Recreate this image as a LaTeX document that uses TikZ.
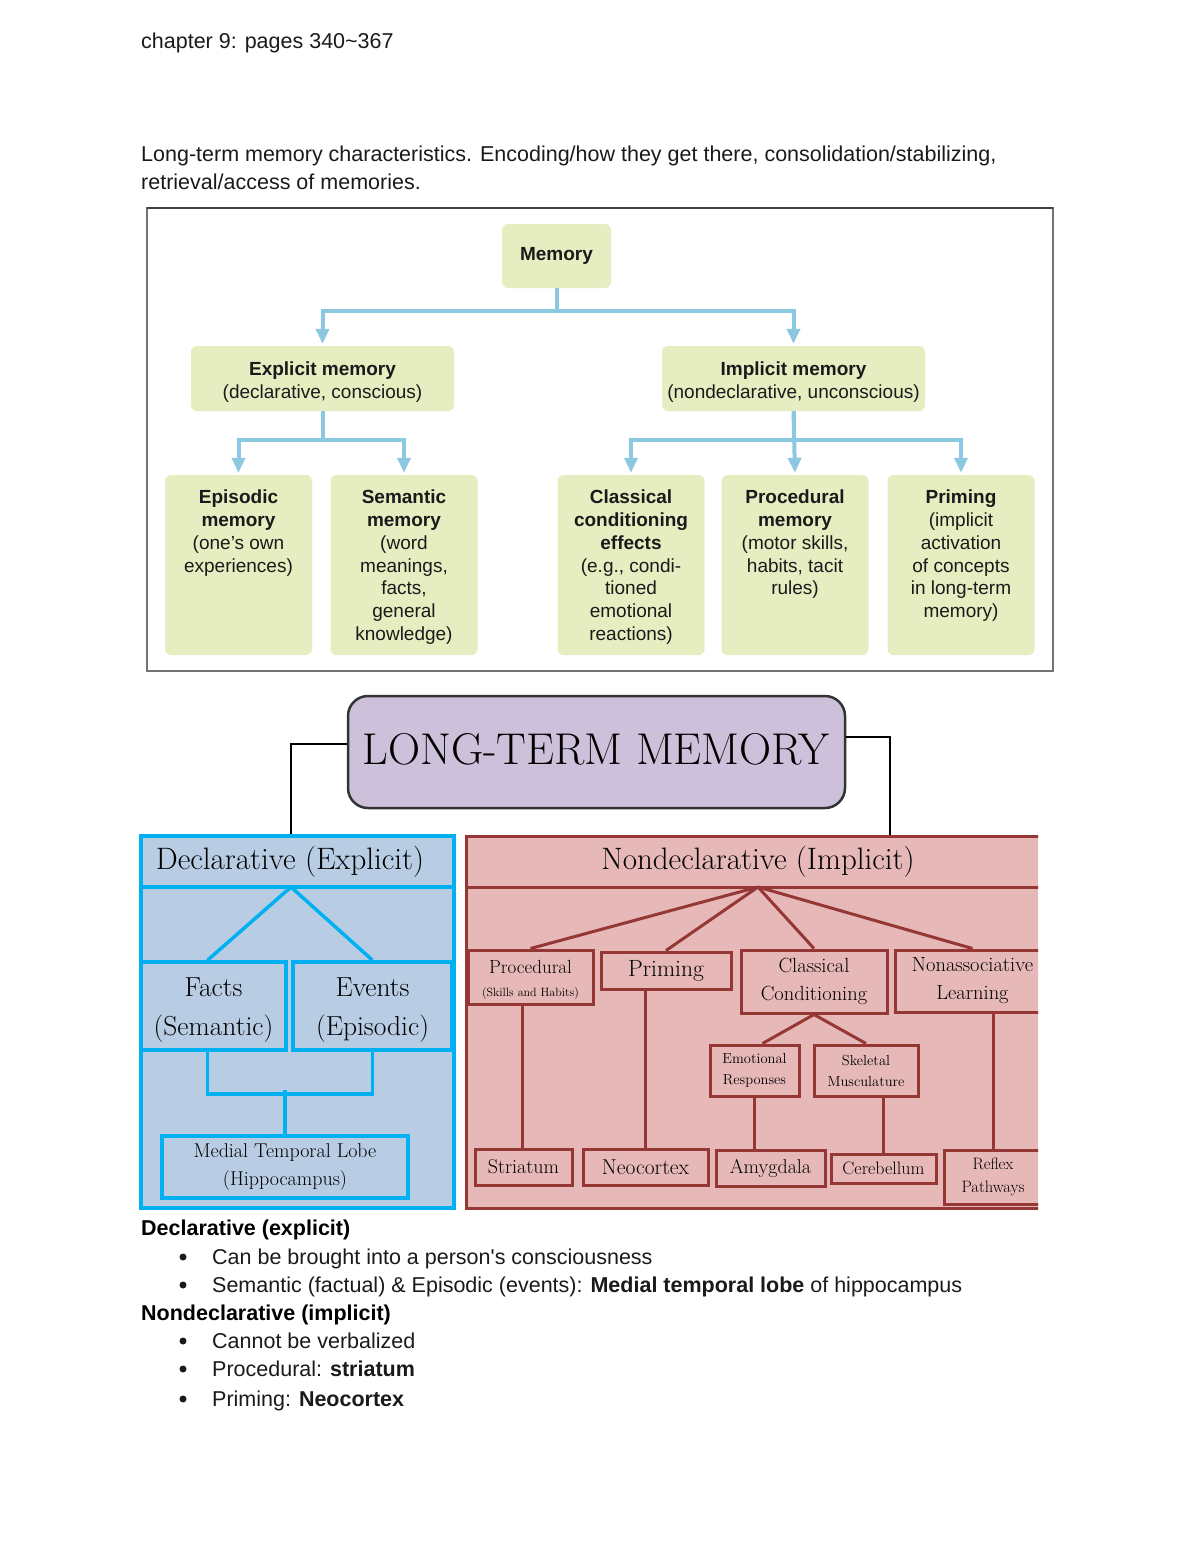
\documentclass[tikz,border=0pt]{standalone}
\usepackage{fontspec}
\newfontfamily\arialf{Liberation Sans}
\usetikzlibrary{arrows.meta,calc}
\definecolor{gfill}{HTML}{E6EEC1}
\definecolor{barrow}{HTML}{8CC8E1}
\definecolor{ltmfill}{HTML}{CCC0DA}
\definecolor{declfill}{HTML}{B8CCE4}
\definecolor{cyanb}{HTML}{00B0F0}
\definecolor{nondfill}{HTML}{E6B8B8}
\definecolor{redb}{HTML}{953735}
\definecolor{txt}{HTML}{1A1A1A}
\begin{document}
\begin{tikzpicture}[x=1pt,y=-1pt,
  hdr/.style={font=\arialf\fontsize{21.5}{25}\selectfont, text=txt, inner sep=0pt},
  gbox/.style={fill=gfill, draw=none, rounded corners=6pt, inner sep=0pt, align=center,
    font=\arialf\fontsize{19}{23}\selectfont, text=txt},
  gtext/.style={inner sep=0pt, align=center, font=\arialf\fontsize{19}{22.8}\selectfont, text=txt},
  bl/.style={draw=barrow, line width=4pt, line join=miter, -{Triangle[width=13pt,length=15pt]}, shorten >=2pt},
  ltmbox/.style={fill=ltmfill, draw=black!80, line width=2.5pt, rounded corners=20pt, inner sep=0pt},
  kline/.style={draw=black, line width=2.5pt},
  dpanel/.style={fill=declfill, draw=cyanb, line width=4pt, inner sep=0pt},
  dbox/.style={draw=cyanb, line width=3.5pt, inner sep=0pt, align=center},
  cl/.style={draw=cyanb, line width=3.5pt},
  npanel/.style={fill=nondfill, draw=redb, line width=3pt, inner sep=0pt},
  nbox/.style={draw=redb, line width=3pt, inner sep=0pt, align=center},
  rl/.style={draw=redb, line width=3pt},
  btxt/.style={font=\arialf\fontsize{21.5}{25}\selectfont, text=txt, inner sep=0pt},
  bullet/.style={circle, fill=txt, inner sep=0pt, minimum size=7pt},
]
\useasboundingbox[fill=white] (0,0) rectangle (1200,1553);

% ---------- header ----------
\node[hdr, anchor=base west] (h1) at (141,48) {chapter 9: pages 340\textasciitilde 367};
\node[hdr, anchor=base west] (h2) at (141,161) {Long-term memory characteristics. Encoding/how they get there, consolidation/stabilizing,};
\node[hdr, anchor=base west] (h3) at (141,189) {retrieval/access of memories.};

% ---------- diagram 1 ----------
\draw[draw=black!55, line width=1.2pt] (147,208) rectangle (1053,671);
\draw[draw=black!75, line width=2pt] (147,208) -- (1053,208);

\node[gbox, minimum width=109pt, minimum height=64pt] (mem) at (556.5,256) {\bfseries Memory};
\node[gbox, minimum width=263pt, minimum height=65pt] (expl) at (322.5,378.5) {};
\node[gtext, yshift=-3.5pt] (explT) at (expl.center) {\textbf{Explicit memory}\\(declarative, conscious)};
\node[gbox, minimum width=263pt, minimum height=65pt] (impl) at (793.5,378.5) {};
\node[gtext, yshift=-3.5pt] (implT) at (impl.center) {\textbf{Implicit memory}\\(nondeclarative, unconscious)};

\foreach \n/\x in {epi/238.5, sem/404, cla/631, pro/795, pri/961}
  \node[gbox, minimum width=147pt, minimum height=180pt] (\n) at (\x,565) {};

\node[gtext, anchor=north, yshift=-15pt] (epiT) at (epi.north) {\textbf{Episodic}\\\textbf{memory}\\(one’s own\\experiences)};
\node[gtext, anchor=north, yshift=-15pt] (semT) at (sem.north) {\textbf{Semantic}\\\textbf{memory}\\(word\\meanings,\\facts,\\general\\knowledge)};
\node[gtext, anchor=north, yshift=-15pt] (claT) at (cla.north) {\textbf{Classical}\\\textbf{conditioning}\\\textbf{effects}\\(e.g., condi-\\tioned\\emotional\\reactions)};
\node[gtext, anchor=north, yshift=-15pt] (proT) at (pro.north) {\textbf{Procedural}\\\textbf{memory}\\(motor skills,\\habits, tacit\\rules)};
\node[gtext, anchor=north, yshift=-15pt] (priT) at (pri.north) {\textbf{Priming}\\(implicit\\activation\\of concepts\\in long-term\\memory)};

\draw[bl] (mem.south) -- ++(0,23) -| (expl.north);
\draw[bl] (mem.south) -- ++(0,23) -| (impl.north);
\draw[bl] (expl.south) -- ++(0,29) -| (epi.north);
\draw[bl] (expl.south) -- ++(0,29) -| (sem.north);
\draw[bl] (impl.south) -- ++(0,29) -| (cla.north);
\draw[bl] (impl.south) -- (pro.north);
\draw[bl] (impl.south) -- ++(0,29) -| (pri.north);

% ---------- diagram 2 ----------
\begin{scope}
\clip (0,0) rectangle (1038,1553);

\node[ltmbox, minimum width=497pt, minimum height=112pt] (ltm) at (596.5,752) {};
\node[inner sep=0pt, font=\fontsize{44.5}{52}\selectfont] (ltmT) at (596,749) {LONG-TERM MEMORY};

\node[dpanel, minimum width=313pt, minimum height=372pt] (decl) at (297.5,1022) {};
\node[npanel, minimum width=590pt, minimum height=372pt] (nond) at (761,1022) {};

\draw[kline] ([yshift=8pt]ltm.west) -| ([xshift=-6.5pt]decl.north);
\draw[kline] ([yshift=15pt]ltm.east) -| ([xshift=129pt]nond.north);

% declarative
\coordinate (dapex) at (291,887);
\draw[cl] (decl.west |- dapex) -- (decl.east |- dapex);
\node[inner sep=0pt, font=\fontsize{31}{36}\selectfont] (dtitle) at (290,862) {Declarative (Explicit)};
\node[dbox, minimum width=145pt, minimum height=88pt] (facts) at (213.5,1006) {};
\node[inner sep=0pt, align=center, font=\fontsize{27.5}{39}\selectfont, yshift=-4pt] (factsT) at (facts.center) {Facts\\(Semantic)};
\node[dbox, minimum width=159pt, minimum height=88pt] (events) at (372.5,1006) {};
\node[inner sep=0pt, align=center, font=\fontsize{27.5}{39}\selectfont, yshift=-4pt] (eventsT) at (events.center) {Events\\(Episodic)};
\draw[cl] (dapex) -- ([xshift=-6pt]facts.north);
\draw[cl] (dapex) -- (events.north);
\node[dbox, minimum width=246pt, minimum height=62pt, font=\fontsize{20}{28}\selectfont] (mtl) at (285,1167) {Medial Temporal Lobe\\(Hippocampus)};
\draw[cl] ([xshift=-6pt]facts.south) -- ++(0,42) -| (events.south);
\draw[cl] (mtl.north) -- ++(0,-44);

% nondeclarative
\coordinate (napex) at (758,887);
\draw[rl] (nond.west |- napex) -- (nond.east |- napex);
\node[inner sep=0pt, font=\fontsize{31}{36}\selectfont] (ntitle) at (758,862) {Nondeclarative (Implicit)};

\node[nbox, minimum width=125pt, minimum height=54pt] (proc) at (530.5,977) {};
\node[inner sep=0pt, align=center, font=\fontsize{19}{23}\selectfont, yshift=-2.5pt] (procT) at (proc.center) {Procedural\\{\fontsize{12}{14}\selectfont (Skills and Habits)}};
\node[nbox, minimum width=130pt, minimum height=37pt, font=\fontsize{23.5}{26}\selectfont] (prim) at (666,970.5) {Priming};
\node[nbox, minimum width=146pt, minimum height=63pt, font=\fontsize{20.5}{28}\selectfont] (clas) at (814,981.5) {Classical\\Conditioning};
\node[nbox, minimum width=155pt, minimum height=62pt, font=\fontsize{20.5}{28}\selectfont] (nona) at (972.5,981) {Nonassociative\\Learning};

\draw[rl] (napex) -- (proc.north);
\draw[rl] (napex) -- (prim.north);
\draw[rl] (napex) -- (clas.north);
\draw[rl] (napex) -- (nona.north);

\node[nbox, minimum width=89pt, minimum height=51pt, font=\fontsize{14.5}{21}\selectfont] (emo) at (754.5,1070.5) {Emotional\\Responses};
\node[nbox, minimum width=104pt, minimum height=51pt, font=\fontsize{14.5}{21}\selectfont] (ske) at (866,1070.5) {Skeletal\\Musculature};
\draw[rl] (clas.south) -- ([xshift=8pt]emo.north);
\draw[rl] (clas.south) -- (ske.north);

\node[nbox, minimum width=97pt, minimum height=36pt, font=\fontsize{20}{22}\selectfont] (stri) at (523.5,1167) {Striatum};
\node[nbox, minimum width=125pt, minimum height=36pt, font=\fontsize{21.5}{24}\selectfont] (neo) at (645.5,1167) {Neocortex};
\node[nbox, minimum width=109pt, minimum height=36pt, font=\fontsize{20}{22}\selectfont] (amy) at (770.5,1168) {Amygdala};
\node[nbox, minimum width=105pt, minimum height=29pt, font=\fontsize{18}{20}\selectfont] (cere) at (883.5,1168.5) {Cerebellum};
\node[nbox, minimum width=98pt, minimum height=54pt, font=\fontsize{16.5}{23}\selectfont] (refl) at (993,1177) {Reflex\\Pathways};

\draw[rl] ([xshift=-1.5pt]stri.north |- proc.south) -- ([xshift=-1.5pt]stri.north);
\draw[rl] (neo.north |- prim.south) -- (neo.north);
\draw[rl] (emo.south) -- (emo.south |- amy.north);
\draw[rl] (cere.north |- ske.south) -- (cere.north);
\draw[rl] (refl.north |- nona.south) -- (refl.north);
\end{scope}

% ---------- bottom notes ----------
\node[btxt, anchor=base west, text=black] (b1) at (141,1235) {\bfseries Declarative (explicit)};
\node[bullet] (u1) at (183,1257) {};
\node[btxt, anchor=base west] (t1) at (212,1264) {Can be brought into a person's consciousness};
\node[bullet] (u2) at (183,1285) {};
\node[btxt, anchor=base west] (t2) at (212,1292) {Semantic (factual) \& Episodic (events): \textbf{Medial temporal lobe} of hippocampus};
\node[btxt, anchor=base west, text=black] (b2) at (141,1320) {\bfseries Nondeclarative (implicit)};
\node[bullet] (u3) at (183,1341) {};
\node[btxt, anchor=base west] (t3) at (212,1348) {Cannot be verbalized};
\node[bullet] (u4) at (183,1369) {};
\node[btxt, anchor=base west] (t4) at (212,1376) {Procedural: \textbf{striatum}};
\node[bullet] (u5) at (183,1399) {};
\node[btxt, anchor=base west] (t5) at (212,1406) {Priming: \textbf{Neocortex}};
\end{tikzpicture}
\end{document}
